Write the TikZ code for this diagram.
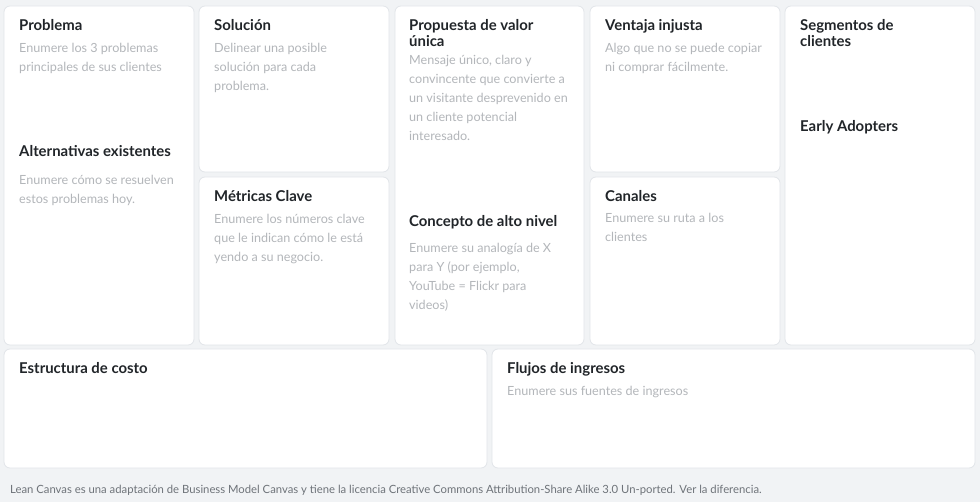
\documentclass[tikz,border=0pt]{standalone}
\usepackage{fontspec}
\setmainfont{Lato}
\definecolor{bgc}{HTML}{F1F3F5}
\definecolor{cardline}{HTML}{E2E5E9}
\definecolor{titlec}{HTML}{212529}
\definecolor{bodyc}{HTML}{B3B6BA}
\definecolor{footc}{HTML}{6E7379}
\tikzset{
  card/.style={fill=white,draw=cardline,line width=0.8pt,rounded corners=6pt},
  ttl/.style={anchor=base west,inner sep=0pt,text=titlec,font=\fontsize{14.9}{15}\selectfont\bfseries},
  bdy/.style={anchor=base west,inner sep=0pt,text=bodyc,font=\fontsize{12.6}{19}\selectfont},
  foot/.style={anchor=base west,inner sep=0pt,text=footc,font=\fontsize{11.3}{13}\selectfont}
}
\newcommand\ml[1]{\begin{tabular}[t]{@{}l@{}}#1\end{tabular}}
\begin{document}
\begin{tikzpicture}[x=1pt,y=-1pt]
\useasboundingbox (0,0) rectangle (980,502);
\fill[bgc] (0,0) rectangle (980,502);
% cards
\path[card] (4,6) rectangle (194,345);
\path[card] (199,6) rectangle (389,172);
\path[card] (199,177) rectangle (389,345);
\path[card] (395,6) rectangle (584,345);
\path[card] (590,6) rectangle (780,172);
\path[card] (590,177) rectangle (780,345);
\path[card] (785,6) rectangle (975,345);
\path[card] (4,349) rectangle (487,468);
\path[card] (492,349) rectangle (975,468);
% texts
\node[ttl] (t1) at (19,31) {Problema};
\node[bdy] (b1) at (19,53) {\ml{Enumere los 3 problemas\\principales de sus clientes}};
\node[ttl] (t2) at (19,157) {Alternativas existentes};
\node[bdy] (b2) at (19,185) {\ml{Enumere cómo se resuelven\\estos problemas hoy.}};
\node[ttl] (t3) at (214,31) {Solución};
\node[bdy] (b3) at (214,53) {\ml{Delinear una posible\\solución para cada\\problema.}};
\node[ttl] (t4) at (214,202) {Métricas Clave};
\node[bdy] (b4) at (214,224) {\ml{Enumere los números clave\\que le indican cómo le está\\yendo a su negocio.}};
\node[ttl] (t5) at (409,31) {\ml{Propuesta de valor\\única}};
\node[bdy] (b5) at (409,65) {\ml{Mensaje único, claro y\\convincente que convierte a\\un visitante desprevenido en\\un cliente potencial\\interesado.}};
\node[ttl] (t6) at (409,227) {Concepto de alto nivel};
\node[bdy] (b6) at (409,253) {\ml{Enumere su analogía de X\\para Y (por ejemplo,\\YouTube = Flickr para\\videos)}};
\node[ttl] (t7) at (605,31) {Ventaja injusta};
\node[bdy] (b7) at (605,53) {\ml{Algo que no se puede copiar\\ni comprar fácilmente.}};
\node[ttl] (t8) at (605,202) {Canales};
\node[bdy] (b8) at (605,223) {\ml{Enumere su ruta a los\\clientes}};
\node[ttl] (t9) at (800,31) {\ml{Segmentos de\\clientes}};
\node[ttl] (t10) at (800,132) {Early Adopters};
\node[ttl] (t11) at (19,374) {Estructura de costo};
\node[ttl] (t12) at (507,374) {Flujos de ingresos};
\node[bdy] (b12) at (507,396) {Enumere sus fuentes de ingresos};
\node[foot] (f) at (10,493) {Lean Canvas es una adaptación de Business Model Canvas y tiene la licencia Creative Commons Attribution-Share Alike 3.0 Un-ported. Ver la diferencia.};
\end{tikzpicture}
\end{document}
